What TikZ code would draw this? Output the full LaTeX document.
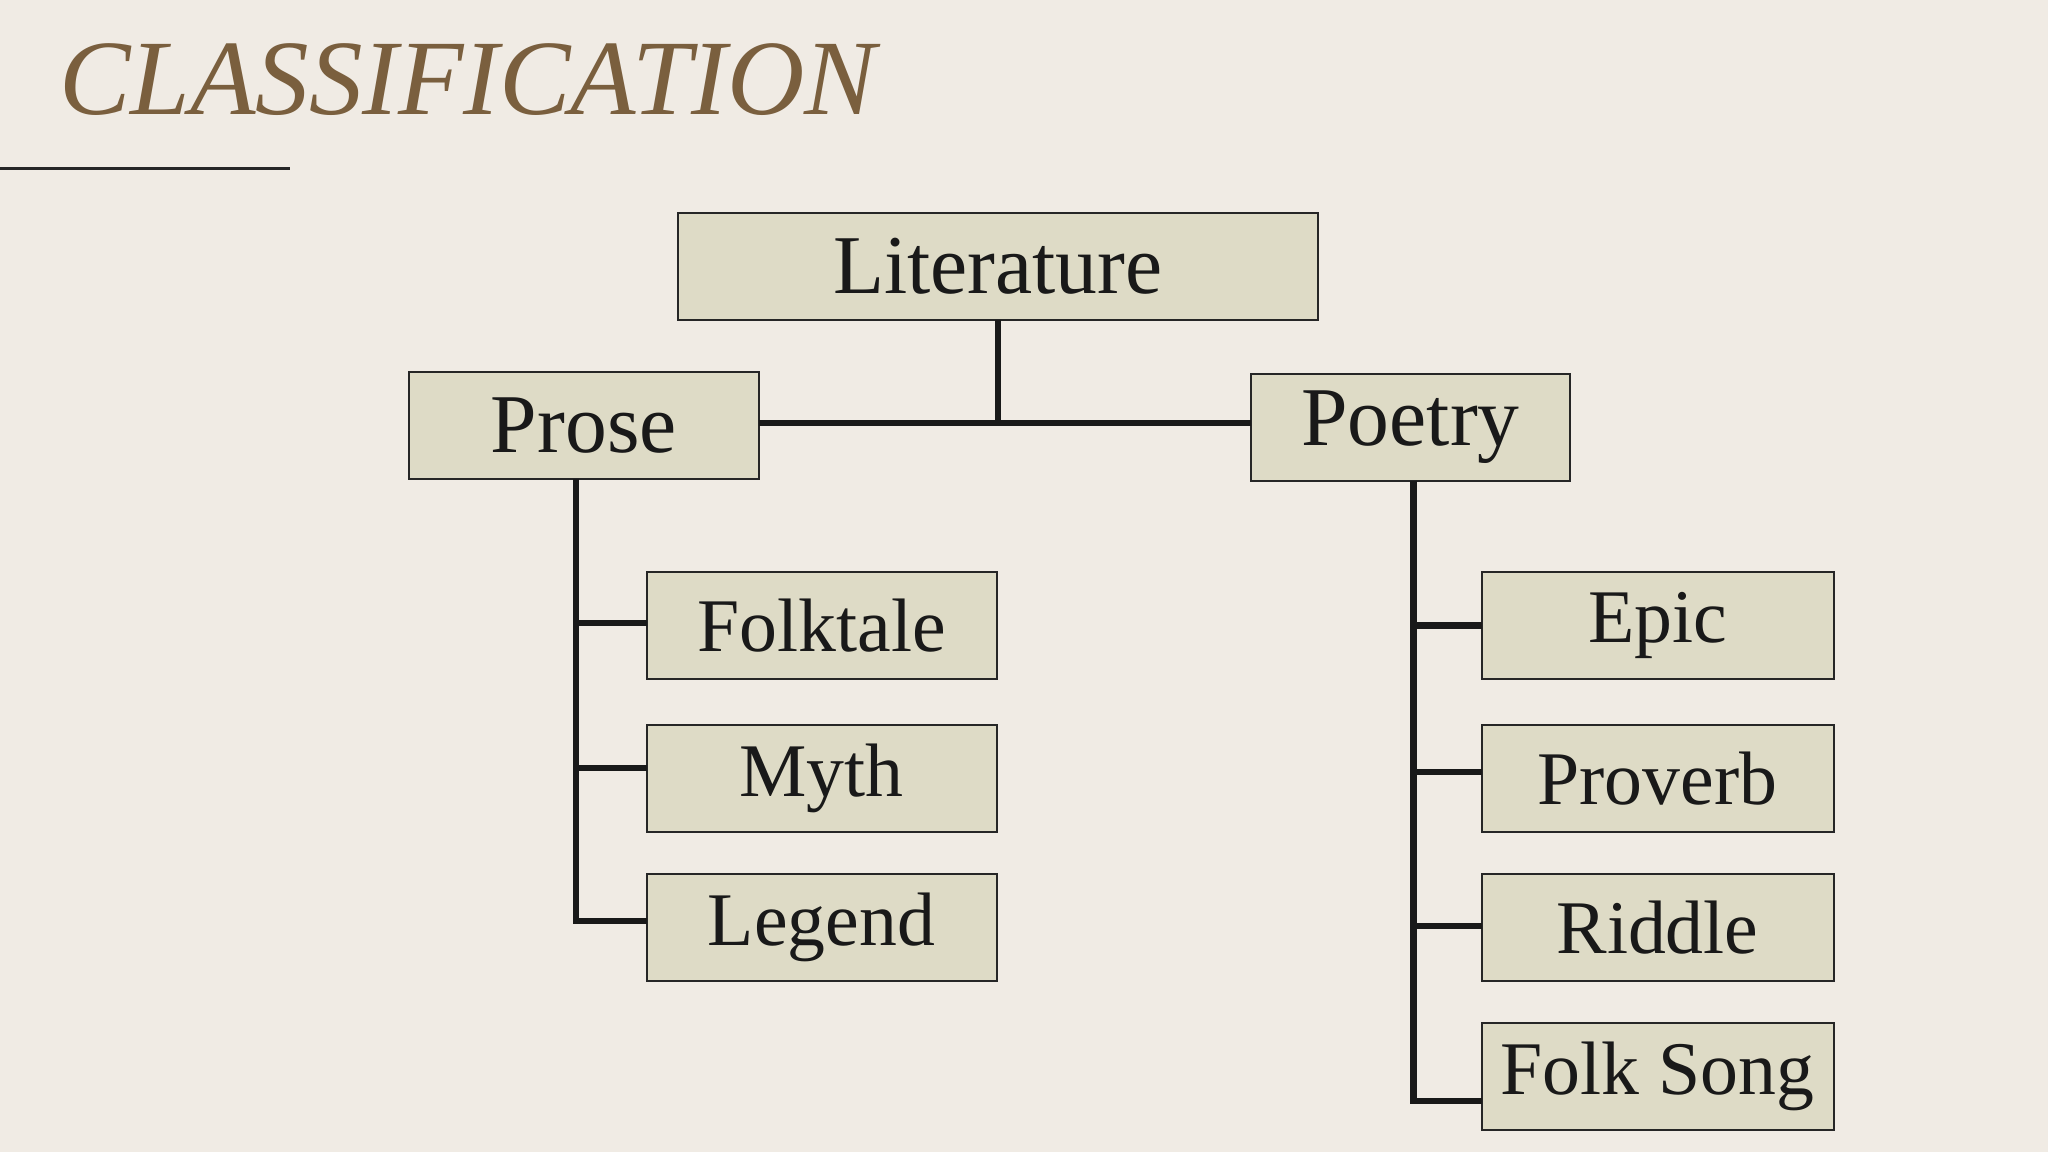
\documentclass[tikz,border=0pt]{standalone}
\usepackage{fontspec}
\setmainfont{Liberation Serif}
\definecolor{bg}{HTML}{F0EBE4}
\definecolor{boxfill}{HTML}{DEDBC6}
\definecolor{titlec}{HTML}{7A5F3E}
\begin{document}
\begin{tikzpicture}[x=1pt,y=-1pt,
  box/.style={draw=black!85,line width=1.5pt,fill=boxfill,inner sep=0pt},
  lbl/.style={font=\fontsize{58}{60}\selectfont,text=black!90},
  conn/.style={line width=5pt,black!90}]
\fill[bg] (0,0) rectangle (1568,882);
\useasboundingbox (0,0) rectangle (1568,882);
\node[anchor=base west,text=titlec,font=\fontsize{82}{84}\selectfont\itshape,inner sep=0pt] (title) at (45,88) {CLASSIFICATION};
\draw[line width=3pt,black!85] (0,129) -- (222,129);
% boxes
\newcommand{\bx}[6]{\draw[box] (#1,#3) rectangle (#2,#4); \node[lbl,font=\fontsize{#6}{#6}\selectfont] (#5) at ({(#1+#2)/2},{(#3+#4)/2}) {};}
\draw[box] (519,163) rectangle (1009,245); \node[lbl,font=\fontsize{64}{66}\selectfont] (lit) at (764,204) {Literature};
\coordinate (litb) at (764,245);
\draw[box] (313,285) rectangle (581,367); \node[lbl,font=\fontsize{64}{66}\selectfont] (prose) at (447,326) {Prose};
\draw[box] (958,286) rectangle (1202,368); \node[lbl,font=\fontsize{64}{66}\selectfont] (poetry) at (1080,327) {Poetry};
\draw[box] (495,438) rectangle (763,520); \node[lbl] (folktale) at (629,479) {Folktale};
\draw[box] (495,555) rectangle (763,637); \node[lbl] (myth) at (629,596) {Myth};
\draw[box] (495,669) rectangle (763,751); \node[lbl] (legend) at (629,710) {Legend};
\draw[box] (1135,438) rectangle (1404,520); \node[lbl] (epic) at (1269,479) {Epic};
\draw[box] (1135,555) rectangle (1404,637); \node[lbl] (proverb) at (1269,596) {Proverb};
\draw[box] (1135,669) rectangle (1404,751); \node[lbl] (riddle) at (1269,710) {Riddle};
\draw[box] (1135,783) rectangle (1404,865); \node[lbl] (folksong) at (1269,824) {Folk Song};
% connectors
\coordinate (j) at (764,324);
\coordinate (pl) at (581,324);
\coordinate (pr) at (958,324);
\draw[conn] (litb) -- (j);
\draw[conn] (pl) -- (pr);
\coordinate (pt) at (441,367);
\draw[conn] (pt) -- (441,705) -- (495,705);
\draw[conn] (441,477) -- (495,477);
\draw[conn] (441,588) -- (495,588);
\coordinate (qt) at (1082,368);
\draw[conn] (qt) -- (1082,843) -- (1135,843);
\draw[conn] (1082,479) -- (1135,479);
\draw[conn] (1082,591) -- (1135,591);
\draw[conn] (1082,709) -- (1135,709);
\end{tikzpicture}
\end{document}
